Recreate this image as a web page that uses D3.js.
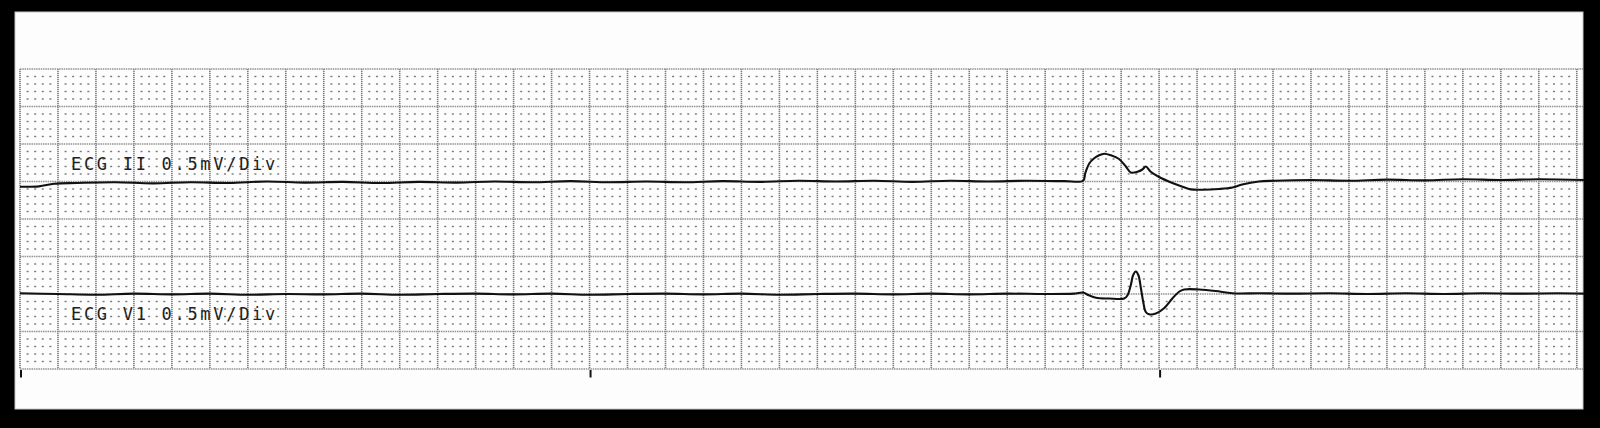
<!DOCTYPE html>
<html>
<head>
<meta charset="utf-8">
<script src="https://d3js.org/d3.v7.min.js"></script>
<style>
  html, body { margin: 0; padding: 0; background: #000; }
  svg { display: block; }
</style>
</head>
<body>
<svg width="1600" height="428"></svg>
<script>
// lead labels
const leadLabels = ["ECG II 0.5mV/Div", "ECG V1 0.5mV/Div"];

// seconds marks printed under the strip
const secondMarks = [0, 3, 6];

// lead II trace: [time s, amplitude mV]
const leadII = [
  [0, -0.07], [0.1, -0.065], [0.18, -0.03], [0.3, -0.02], [0.5, -0.01], [0.7, -0.025],
  [0.9, -0.01], [1.1, -0.02], [1.3, 0], [1.5, -0.015], [1.7, -0.005], [1.9, -0.02],
  [2.1, -0.005], [2.3, -0.015], [2.5, 0], [2.7, -0.01], [2.9, 0.005], [3.1, -0.01],
  [3.3, 0], [3.5, -0.01], [3.7, 0.005], [3.9, -0.005], [4.1, 0.01], [4.3, 0],
  [4.5, 0.01], [4.7, -0.005], [4.9, 0.01], [5.1, 0], [5.3, 0.01], [5.5, 0.005],
  [5.6, 0.01], [5.611, 0.11], [5.632, 0.24], [5.658, 0.31], [5.684, 0.35], [5.711, 0.37],
  [5.746, 0.35], [5.789, 0.3], [5.825, 0.2], [5.851, 0.12], [5.886, 0.13], [5.912, 0.16],
  [5.93, 0.2], [5.956, 0.13], [6.0, 0.06], [6.07, -0.02], [6.123, -0.07], [6.167, -0.105],
  [6.228, -0.11], [6.316, -0.1], [6.386, -0.08], [6.438, -0.04], [6.526, 0], [6.605, 0.01],
  [6.8, 0.02], [7.0, 0.01], [7.2, 0.025], [7.4, 0.015], [7.6, 0.03], [7.8, 0.02],
  [8.0, 0.03], [8.24, 0.02]
];

// lead V1 trace: [time s, amplitude mV]
const leadV1 = [
  [0, 0.01], [0.2, 0], [0.4, -0.01], [0.6, 0.005], [0.8, -0.005], [1.0, 0.005],
  [1.2, -0.01], [1.4, 0], [1.6, -0.005], [1.8, 0.005], [2.0, -0.01], [2.2, 0],
  [2.4, 0.005], [2.6, -0.005], [2.8, 0.005], [3.0, -0.01], [3.2, 0], [3.4, 0.005],
  [3.6, -0.005], [3.8, 0.005], [4.0, -0.01], [4.2, 0], [4.4, 0.005], [4.6, -0.005],
  [4.8, 0.005], [5.0, -0.005], [5.2, 0.005], [5.4, 0], [5.55, 0.005],
  [5.6, 0.02], [5.623, -0.01], [5.667, -0.05], [5.737, -0.06], [5.816, -0.06], [5.833, -0.02],
  [5.851, 0.12], [5.863, 0.25], [5.877, 0.3], [5.891, 0.25], [5.904, 0.08], [5.916, -0.1],
  [5.93, -0.24], [5.947, -0.27], [5.983, -0.26], [6.026, -0.19], [6.07, -0.06], [6.105, 0.03],
  [6.132, 0.06], [6.211, 0.06], [6.298, 0.04], [6.386, 0.01], [6.526, 0.01],
  [6.7, 0.005], [6.9, 0.01], [7.1, 0], [7.3, 0.01], [7.5, 0], [7.7, 0.01],
  [7.9, 0.005], [8.1, 0.01], [8.24, 0.005]
];

const svg = d3.select('svg');

// paper
svg.append('rect')
  .attr('x', 15).attr('y', 12)
  .attr('width', 1568).attr('height', 397)
  .attr('fill', '#fdfdfd')
  .attr('stroke', '#c8c8c8');

// 25 mm/s : one big box = 0.2 s, 0.5 mV per big box
const x = d3.scaleLinear().domain([0, 8.2]).range([20, 20 + 41 * 37.97]);
const y = d3.scaleLinear().domain([2, -2]).range([69, 369]);
const xEnd = 1583;

const g = svg.append('g');

// minor dots
const minorT = d3.range(0, 8.2, 0.04).filter((t, i) => i % 5 != 0);
const minorV = d3.range(2, -2, -0.1).filter((v, i) => i % 5 != 0);
const dots = [];
minorT.forEach(t => minorV.forEach(v => dots.push([t, v])));
g.append('g')
  .selectAll('rect')
  .data(dots)
  .join('rect')
  .attr('x', d => x(d[0]) - 1)
  .attr('y', d => y(d[1]) - 0.7)
  .attr('width', 2)
  .attr('height', 1.4)
  .attr('fill', '#777');

// major lines
g.append('g')
  .selectAll('line')
  .data(d3.range(0, 42).map(i => i * 0.2))
  .join('line')
  .attr('x1', d => x(d)).attr('x2', d => x(d))
  .attr('y1', y(2)).attr('y2', y(-2))
  .attr('stroke', '#7a7a7a')
  .attr('stroke-width', 1.6)
  .attr('stroke-dasharray', '1.2 0.8');

g.append('g')
  .selectAll('line')
  .data(d3.range(0, 9).map(i => 2 - i * 0.5))
  .join('line')
  .attr('x1', x(0)).attr('x2', xEnd)
  .attr('y1', d => y(d)).attr('y2', d => y(d))
  .attr('stroke', '#929292')
  .attr('stroke-width', 1.4)
  .attr('stroke-dasharray', '1.5 0.8');

// second marks
g.append('g')
  .selectAll('line')
  .data(secondMarks)
  .join('line')
  .attr('x1', d => x(d) + 1).attr('x2', d => x(d) + 1)
  .attr('y1', y(-2) + 1).attr('y2', y(-2) + 8.5)
  .attr('stroke', '#111')
  .attr('stroke-width', 2);

// labels
g.append('g')
  .selectAll('text')
  .data(leadLabels)
  .join('text')
  .attr('x', 71)
  .attr('y', (d, i) => i == 0 ? 169.5 : 320)
  .attr('font-family', 'DejaVu Sans Mono, monospace')
  .attr('font-size', 17)
  .attr('letter-spacing', 2.7)
  .attr('fill', '#222')
  .text(d => d);

// traces, each lead offset onto its own big-box line
const traces = [
  { data: leadII, offset: 0.5 },
  { data: leadV1, offset: -1.0 }
];
traces.forEach(tr => {
  g.append('path')
    .datum(tr.data)
    .attr('fill', 'none')
    .attr('stroke', '#111')
    .attr('stroke-width', 2.1)
    .attr('stroke-linejoin', 'round')
    .attr('d', d3.line()
      .x(d => x(d[0]))
      .y(d => y(d[1] + tr.offset))
      .curve(d3.curveCatmullRom.alpha(0.5)));
});
</script>
</body>
</html>
